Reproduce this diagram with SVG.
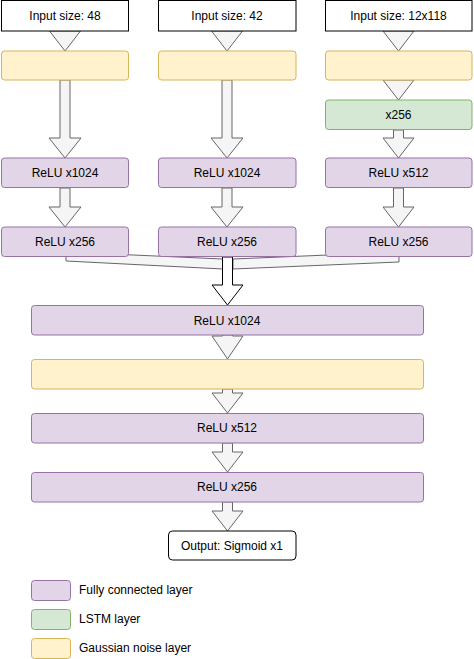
<svg xmlns="http://www.w3.org/2000/svg" width="474" height="659" viewBox="0 0 474 659">
<style>
text{font-family:"Liberation Sans",Arial,sans-serif;font-size:12px;fill:#000;}
.c{text-anchor:middle;}
.in{fill:#fff;stroke:#000;stroke-width:1;}
.fc{fill:#e1d5e7;stroke:#9673a6;stroke-width:1;}
.ls{fill:#d5e8d4;stroke:#82b366;stroke-width:1;}
.gn{fill:#fff2cc;stroke:#d6b656;stroke-width:1;}
.out{fill:#fff;stroke:#000;stroke-width:1;}
.ar{fill:#f5f5f5;stroke:#666;stroke-width:1;stroke-linejoin:miter;}
.ark{fill:#fff;stroke:#000;stroke-width:1;stroke-linejoin:miter;}
</style>
<rect width="474" height="659" fill="#fff"/>
<g id="connectors">
  <polygon class="ar" points="49.5,31 80.5,31 65,51"/>
  <polygon class="ar" points="211.5,31 242.5,31 227,51"/>
  <polygon class="ar" points="383,31 414,31 398.5,51"/>
  <polygon class="ar" points="60,80 70,80 70,138 81,138 65,158 49,138 60,138"/>
  <polygon class="ar" points="222,80 232,80 232,138 243,138 227,158 211,138 222,138"/>
  <polygon class="ar" points="383,80 414,80 398.5,100"/>
  <polygon class="ar" points="393.5,130 403.5,130 403.5,138 414,138 398.5,158 383,138 393.5,138"/>
  <polygon class="ar" points="60,188 70,188 70,207 81,207 65,227 49,207 60,207"/>
  <polygon class="ar" points="222,188 232,188 232,207 243,207 227,227 211,207 222,207"/>
  <polygon class="ar" points="393.5,188 403.5,188 403.5,207 414,207 398.5,227 383,207 393.5,207"/>
  <polygon class="ar" points="66,252 223,259 223,269 66,261"/>
  <polygon class="ar" points="399,252 233,259 233,269 399,262"/>
  <polygon class="ark" points="222.5,257 232.5,257 232.5,285 243,285 227.5,305 212,285 222.5,285"/>
  <polygon class="ar" points="222.5,335 232.5,335 232.5,336 243,336 227.5,359 212,336 222.5,336"/>
  <polygon class="ar" points="222.5,389 232.5,389 232.5,393 243,393 227.5,413 212,393 222.5,393"/>
  <polygon class="ar" points="222.5,443 232.5,443 232.5,452 243,452 227.5,472 212,452 222.5,452"/>
  <polygon class="ar" points="222.5,502 232.5,502 232.5,511 243,511 227.5,531 212,511 222.5,511"/>
</g>
<g id="input1"><rect class="in" x="1.5" y="0.5" width="127" height="30.5"/><text class="c" x="65" y="20">Input size: 48</text></g>
<g id="input2"><rect class="in" x="158.5" y="0.5" width="137.5" height="30.5"/><text class="c" x="227" y="20">Input size: 42</text></g>
<g id="input3"><rect class="in" x="325.5" y="0.5" width="146.5" height="30.5"/><text class="c" x="398.5" y="20">Input size: 12x118</text></g>
<g id="noise1"><rect class="gn" x="1.5" y="51" width="127" height="29" rx="3"/></g>
<g id="noise2"><rect class="gn" x="158.5" y="51" width="137.5" height="29" rx="3"/></g>
<g id="noise3"><rect class="gn" x="325.5" y="51" width="146.5" height="29" rx="3"/></g>
<g id="lstm"><rect class="ls" x="325.5" y="100" width="146.5" height="29.5" rx="3"/><text class="c" x="398.5" y="119">x256</text></g>
<g id="fc1a"><rect class="fc" x="1.5" y="158" width="127" height="29.5" rx="3"/><text class="c" x="65" y="177">ReLU x1024</text></g>
<g id="fc2a"><rect class="fc" x="158.5" y="158" width="137.5" height="29.5" rx="3"/><text class="c" x="227" y="177">ReLU x1024</text></g>
<g id="fc3a"><rect class="fc" x="325.5" y="158" width="146.5" height="29.5" rx="3"/><text class="c" x="398.5" y="177">ReLU x512</text></g>
<g id="fc1b"><rect class="fc" x="1.5" y="227" width="127" height="29.5" rx="3"/><text class="c" x="65" y="246">ReLU x256</text></g>
<g id="fc2b"><rect class="fc" x="158.5" y="227" width="137.5" height="29.5" rx="3"/><text class="c" x="227" y="246">ReLU x256</text></g>
<g id="fc3b"><rect class="fc" x="325.5" y="227" width="146.5" height="29.5" rx="3"/><text class="c" x="398.5" y="246">ReLU x256</text></g>
<g id="fcM1"><rect class="fc" x="31.5" y="305.5" width="392" height="29.5" rx="3"/><text class="c" x="227" y="325">ReLU x1024</text></g>
<g id="noiseM"><rect class="gn" x="31.5" y="359.5" width="392" height="29.5" rx="3"/></g>
<g id="fcM2"><rect class="fc" x="31.5" y="413.5" width="392" height="29.5" rx="3"/><text class="c" x="227" y="432">ReLU x512</text></g>
<g id="fcM3"><rect class="fc" x="31.5" y="472.5" width="392" height="29.5" rx="3"/><text class="c" x="227" y="491">ReLU x256</text></g>
<g id="output"><rect class="out" x="168.5" y="531" width="127.5" height="29" rx="4"/><text class="c" x="232" y="550">Output: Sigmoid x1</text></g>
<g id="legend-fc"><rect class="fc" x="31.5" y="580.5" width="39" height="20" rx="3"/><text x="79" y="594">Fully connected layer</text></g>
<g id="legend-lstm"><rect class="ls" x="31.5" y="609.5" width="39" height="20" rx="3"/><text x="79" y="623">LSTM layer</text></g>
<g id="legend-noise"><rect class="gn" x="31.5" y="638.5" width="39" height="20" rx="3"/><text x="79" y="652">Gaussian noise layer</text></g>
</svg>
